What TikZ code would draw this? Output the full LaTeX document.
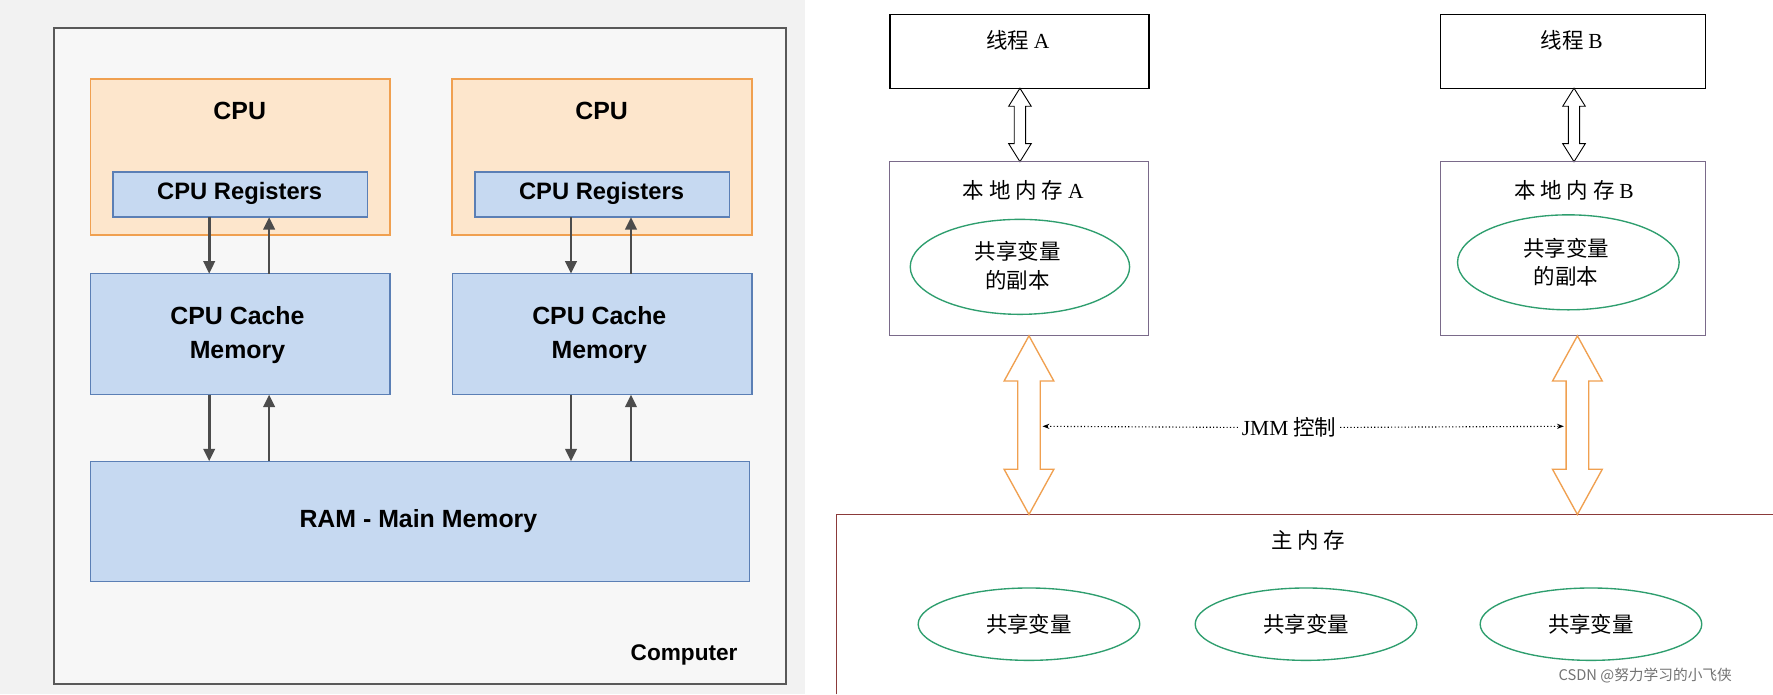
\documentclass[tikz,border=0pt]{standalone}
\usepackage{fontspec}
\setmainfont{Liberation Sans}
\newfontfamily\cjk{Noto Sans CJK SC}
\newfontfamily\serif{Liberation Serif}
\usetikzlibrary{arrows.meta}
\definecolor{orf}{HTML}{FDE6CC}\definecolor{ord}{HTML}{F0A050}
\definecolor{blf}{HTML}{C6D9F1}\definecolor{bld}{HTML}{5B7FB5}
\definecolor{grn}{HTML}{2E9E6E}\definecolor{mred}{HTML}{8B3A3A}
\definecolor{purp}{HTML}{7A6A8A}
\newcommand\dblarr[7]{% x,y1,y2,headhalf,shafthalf,headlen,style
 \draw[#7] (#1-#5,#2+#6) -- (#1-#4,#2+#6) -- (#1,#2) -- (#1+#4,#2+#6) -- (#1+#5,#2+#6)
 -- (#1+#5,#3-#6) -- (#1+#4,#3-#6) -- (#1,#3) -- (#1-#4,#3-#6) -- (#1-#5,#3-#6) -- cycle;}
\begin{document}
\begin{tikzpicture}[x=1pt,y=-1pt,
 cpu/.style={draw=ord,fill=orf,line width=1.5pt},
 blu/.style={draw=bld,fill=blf,line width=1.2pt},
 arr/.style={-{Triangle[length=11pt,width=10pt]},line width=2.4pt,draw=black!70},
 lbl/.style={font=\bfseries\fontsize{22}{30}\selectfont,align=center},
 ell/.style={draw=grn,line width=1.2pt,ellipse},
 cj/.style={font=\cjk\fontsize{19}{25}\selectfont,align=center}]
\useasboundingbox (0,0) rectangle (1568,614);
\fill[white] (0,0) rectangle (1568,614);
\fill[black!5] (0,0) rectangle (712,614);
\draw[black!65,line width=2pt,fill=black!3] (48,25) rectangle (695,605);
% left
\foreach \o in {0,320}{
 \draw[cpu] (80+\o,70) rectangle (345+\o,208);
 \node[lbl] at (212+\o,98) {CPU};
 \draw[blu] (100+\o,152) rectangle (325+\o,192);
 \node[lbl,font=\bfseries\fontsize{21}{25}\selectfont] at (212+\o,171) {CPU Registers};
 \draw[blu] (80+\o,242) rectangle (345+\o,349);
 \node[lbl] at (210+\o,296) {CPU Cache\\Memory};
 \coordinate (a\o) at (185+\o,192); \coordinate (b\o) at (185+\o,242);
 \draw[arr] (a\o) -- (b\o);
 \coordinate (c\o) at (238+\o,242); \coordinate (d\o) at (238+\o,192);
 \draw[arr] (c\o) -- (d\o);
 \coordinate (e\o) at (185+\o,349); \coordinate (f\o) at (185+\o,408);
 \draw[arr] (e\o) -- (f\o);
 \coordinate (g\o) at (238+\o,408); \coordinate (h\o) at (238+\o,349);
 \draw[arr] (g\o) -- (h\o);
}
\draw[blu] (80,408) rectangle (663,514);
\node[lbl] at (370,461) {RAM - Main Memory};
\node[lbl,font=\bfseries\fontsize{20}{24}\selectfont] at (605,579) {Computer};
% right
\draw[line width=1.2pt] (787,13) rectangle (1016,78);
\node[cj] at (900,36) {线程 {\serif A}};
\draw[line width=1.2pt] (1274,13) rectangle (1508,78);
\node[cj] at (1390,36) {线程 {\serif B}};
\dblarr{902}{78}{143}{10}{5}{16}{line width=0.8pt,fill=white}
\dblarr{1392}{78}{143}{10}{5}{16}{line width=0.8pt,fill=white}
\draw[purp,line width=1pt] (787,143) rectangle (1016,297);
\node[cj] at (905,168) {本 地 内 存 {\serif A}};
\draw[grn,line width=1.2pt] (902,236) ellipse (97 and 42);
\node[cj] at (900,235) {共享变量\\的副本};
\draw[purp,line width=1pt] (1274,143) rectangle (1508,297);
\node[cj] at (1392,168) {本 地 内 存 {\serif B}};
\draw[grn,line width=1.2pt] (1387,232) ellipse (98 and 42);
\node[cj] at (1385,232) {共享变量\\的副本};
\draw[mred,line width=1.2pt] (740,614) -- (740,455) -- (1568,455);
\dblarr{910}{297}{455}{22}{10}{40}{draw=ord,line width=1.2pt,fill=white}
\dblarr{1395}{297}{455}{22}{10}{40}{draw=ord,line width=1.2pt,fill=white}
\node[cj] (jmm) at (1140,378) {{\serif JMM} 控制};
\coordinate (jl) at (922,377); \coordinate (jr) at (1383,377);
\draw[dotted,line width=1pt,-{Stealth[length=6pt]}] (jmm.west) -- (jl);
\draw[dotted,line width=1pt,-{Stealth[length=6pt]}] (jmm.east) -- (jr);
\node[cj] at (1157,478) {主 内 存};
\foreach \x in {910,1155,1407}{
 \draw[grn,line width=1.2pt] (\x,552) ellipse (98 and 32);
 \node[cj] at (\x,552) {共享变量};
}
\node[font=\cjk\fontsize{13}{15}\selectfont,text=black!55] at (1455,597) {CSDN @努力学习的小飞侠};
\end{tikzpicture}
\end{document}
